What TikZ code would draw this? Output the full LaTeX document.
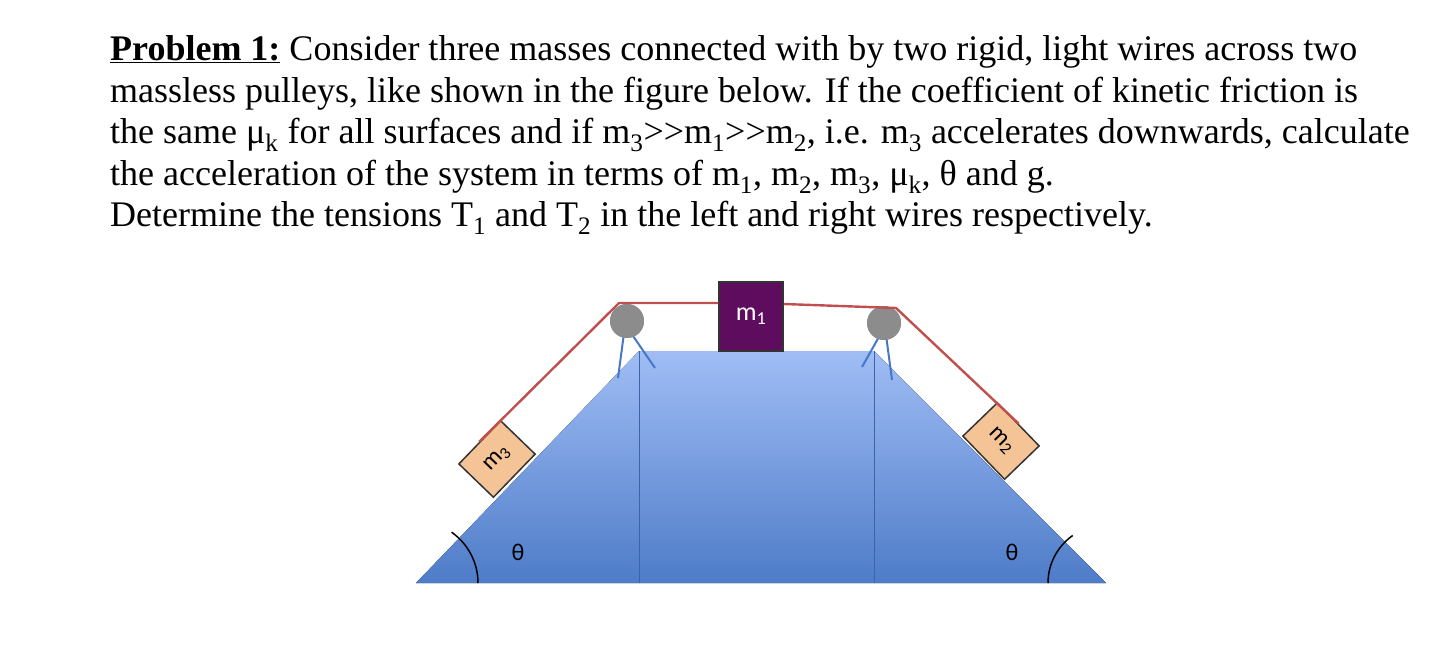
\documentclass[tikz,border=0pt]{standalone}
\usepackage{fontspec}
\setmainfont{Liberation Serif}
\newfontfamily\labfont{Carlito}
\definecolor{vline}{RGB}{60,100,170}
\begin{document}
\begin{tikzpicture}[x=1pt,y=-1pt,
  txt/.style={anchor=base west,inner sep=0pt,font=\fontsize{36}{40}\selectfont},
  rope/.style={draw={rgb,255:red,192;green,80;blue,77},line width=2.4pt},
  leg/.style={draw={rgb,255:red,70;green,120;blue,200},line width=2pt},
  mbox/.style={draw=black!80,line width=1.5pt,fill={rgb,255:red,245;green,196;blue,150},minimum width=60pt,minimum height=48pt,inner sep=0pt,font=\labfont\fontsize{24}{24}\selectfont},
  pulley/.style={circle,fill=gray!90,minimum size=34pt,inner sep=0pt}]
\useasboundingbox (0,0) rectangle (1456,646);
\node[txt] (l1) at (110,60) {\textbf{\underline{Problem 1:}} Consider three masses connected with by two rigid, light wires across two};
\node[txt] (l2) at (110,102) {massless pulleys, like shown in the figure below. If the coefficient of kinetic friction is};
\node[txt] (l3) at (110,143) {the same μ\textsubscript{k} for all surfaces and if m\textsubscript{3}{>}{>}m\textsubscript{1}{>}{>}m\textsubscript{2}, i.e. m\textsubscript{3} accelerates downwards, calculate};
\node[txt] (l4) at (110,185) {the acceleration of the system in terms of m\textsubscript{1}, m\textsubscript{2}, m\textsubscript{3}, μ\textsubscript{k}, θ and g.};
\node[txt] (l5) at (110,226) {Determine the tensions T\textsubscript{1} and T\textsubscript{2} in the left and right wires respectively.};
% block
\coordinate (BL) at (416,583);
\coordinate (BR) at (1106,583);
\coordinate (TL) at (639,351);
\coordinate (TR) at (874,351);
\fill[top color={rgb,255:red,160;green,189;blue,245},bottom color={rgb,255:red,78;green,124;blue,200}]
 (BL) -- (TL) -- (TR) -- (BR) -- cycle;
\draw[vline,line width=0.8pt] (TL) -- (639,583) (TR) -- (874,583);
% supports
\node[pulley] (p1) at (627,321) {};
\node[pulley] (p2) at (884,323) {};
\draw[leg] (p1.center) ++(-3,12) -- (618,378) (p1.center) ++(4,12) -- (655,368);
\draw[leg] (p2.center) ++(-4,12) -- (862,367) (p2.center) ++(2,12) -- (892,380);
\fill[gray!90] (p1) circle (17pt) (p2) circle (17pt);
% m1
\node[draw=black!80,line width=1.5pt,fill={rgb,255:red,94;green,12;blue,94},minimum width=64pt,minimum height=69pt,inner sep=0pt,text=white,font=\labfont\fontsize{26}{26}\selectfont] (m1) at (751,316.5) {m\textsubscript{1}};
% masses on slopes
\node[mbox,rotate=46] (m3) at (497,459) {m\textsubscript{3}};
\node[mbox,rotate=-46] (m2) at (1001,441) {m\textsubscript{2}};
% ropes
\coordinate (t1) at (619,303);
\coordinate (t2) at (896,308);
\draw[rope] (m3.north) -- (t1) -- (m1.west |- 0,303);
\draw[rope] (m1.east |- 0,304) -- (t2) -- (m2.north);
% angles
\draw[line width=1.5pt] (478,583) arc (0:-55:62);
\draw[line width=1.5pt] (1048,583) arc (180:235:58);
\node[font=\labfont\fontsize{24}{24}\selectfont] (th1) at (518,552) {θ};
\node[font=\labfont\fontsize{24}{24}\selectfont] (th2) at (1012,552) {θ};
\end{tikzpicture}
\end{document}
